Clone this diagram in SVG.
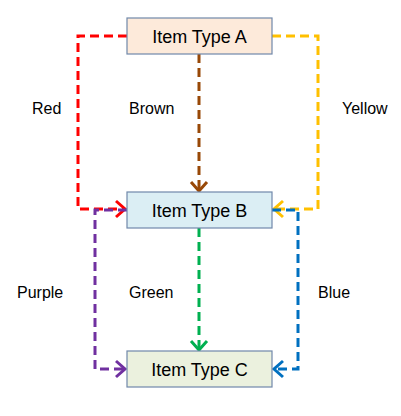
<svg xmlns="http://www.w3.org/2000/svg" width="401" height="416" viewBox="0 0 401 416">
<style>
.node{stroke:#7088AA;stroke-width:1.2}
.nt{font-family:"Liberation Sans",Arial,sans-serif;font-size:18px;fill:#000;text-anchor:middle}
.lbl{font-family:"Liberation Sans",Arial,sans-serif;font-size:16px;fill:#000}
.c{fill:none;stroke-width:3;stroke-dasharray:9 5}
</style>
<defs>
<marker id="mRed" markerUnits="userSpaceOnUse" markerWidth="18" markerHeight="20" refX="13" refY="10" orient="auto"><path d="M4,2 L13,10 L4,18" fill="none" stroke="#FF0000" stroke-width="3"/></marker>
<marker id="mYellow" markerUnits="userSpaceOnUse" markerWidth="18" markerHeight="20" refX="13" refY="10" orient="auto"><path d="M4,2 L13,10 L4,18" fill="none" stroke="#FFC000" stroke-width="3"/></marker>
<marker id="mBrown" markerUnits="userSpaceOnUse" markerWidth="18" markerHeight="20" refX="13" refY="10" orient="auto"><path d="M4,2 L13,10 L4,18" fill="none" stroke="#984807" stroke-width="3"/></marker>
<marker id="mPurple" markerUnits="userSpaceOnUse" markerWidth="18" markerHeight="20" refX="13" refY="10" orient="auto"><path d="M4,2 L13,10 L4,18" fill="none" stroke="#7030A0" stroke-width="3"/></marker>
<marker id="mBlue" markerUnits="userSpaceOnUse" markerWidth="18" markerHeight="20" refX="13" refY="10" orient="auto"><path d="M4,2 L13,10 L4,18" fill="none" stroke="#0070C0" stroke-width="3"/></marker>
<marker id="mGreen" markerUnits="userSpaceOnUse" markerWidth="18" markerHeight="20" refX="13" refY="10" orient="auto"><path d="M4,2 L13,10 L4,18" fill="none" stroke="#00B050" stroke-width="3"/></marker>
</defs>
<rect width="401" height="416" fill="#fff"/>
<g id="connectors">
<path class="c" d="M127,36 H78 V209 H125" stroke="#FF0000" marker-end="url(#mRed)"/>
<path class="c" d="M272,36 H318 V209 H274" stroke="#FFC000" marker-end="url(#mYellow)"/>
<path class="c" d="M199,54 V191" stroke="#984807" marker-end="url(#mBrown)"/>
<path class="c" d="M127,210 H95 V369 H125" stroke="#7030A0" marker-end="url(#mPurple)"/>
<path class="c" d="M272,210 H298 V369 H274" stroke="#0070C0" marker-end="url(#mBlue)"/>
<path class="c" d="M199,228 V350" stroke="#00B050" marker-end="url(#mGreen)"/>
</g>
<g id="labels">
<text class="lbl" x="32" y="114">Red</text>
<text class="lbl" x="129" y="114">Brown</text>
<text class="lbl" x="342" y="114">Yellow</text>
<text class="lbl" x="17" y="298">Purple</text>
<text class="lbl" x="129" y="298">Green</text>
<text class="lbl" x="318" y="298">Blue</text>
</g>
<g id="nodeA"><rect class="node" x="127" y="18" width="145" height="36" fill="#FDEADA"/><text class="nt" x="199.5" y="43">Item Type A</text></g>
<g id="nodeB"><rect class="node" x="127" y="192" width="145" height="36" fill="#DBEEF4"/><text class="nt" x="199.5" y="217">Item Type B</text></g>
<g id="nodeC"><rect class="node" x="127" y="351" width="145" height="36" fill="#EBF1DE"/><text class="nt" x="199.5" y="376">Item Type C</text></g>
</svg>
